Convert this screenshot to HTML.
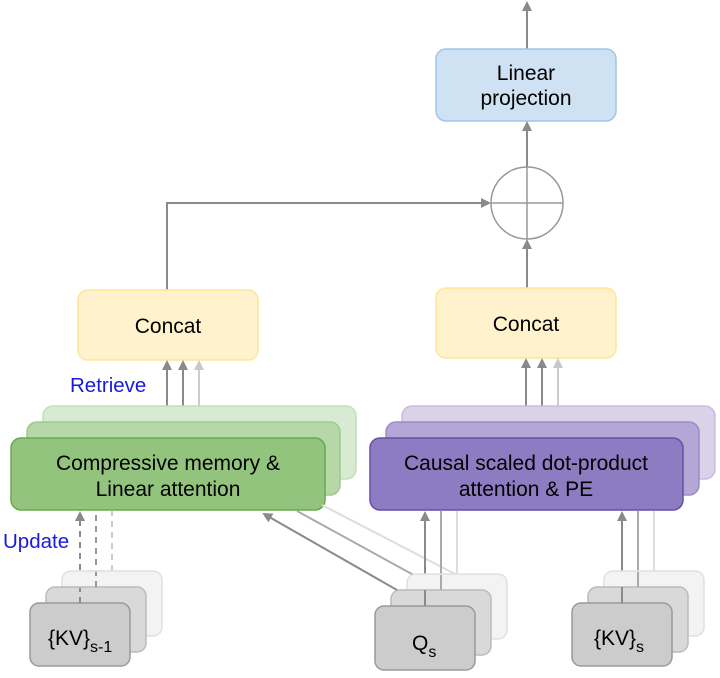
<!DOCTYPE html>
<html><head><style>body{margin:0;background:#fff}svg{display:block}text{font-family:"Liberation Sans",sans-serif}</style></head><body>
<svg width="720" height="678" viewBox="0 0 720 678" xmlns="http://www.w3.org/2000/svg">
<defs>
<marker id="a" markerWidth="10" markerHeight="10" refX="8" refY="5" orient="auto" markerUnits="userSpaceOnUse"><path d="M0,0 L10,5 L0,10 z" fill="#8a8a8a"/></marker>
<marker id="al" markerWidth="10" markerHeight="10" refX="8" refY="5" orient="auto" markerUnits="userSpaceOnUse"><path d="M0,0 L10,5 L0,10 z" fill="#c8c8c8"/></marker>
</defs>
<line x1="527" y1="49" x2="527" y2="3" stroke="#8a8a8a" stroke-width="2" marker-end="url(#a)"/>
<rect x="436" y="49" width="180" height="72" rx="10" fill="#cfe2f3" stroke="#9fc5e8" stroke-width="1.5"/>
<text x="526" y="80" font-size="21" text-anchor="middle">Linear</text>
<text x="526" y="105" font-size="21" text-anchor="middle">projection</text>
<line x1="527" y1="167" x2="527" y2="123" stroke="#8a8a8a" stroke-width="2" marker-end="url(#a)"/>
<circle cx="527" cy="203" r="36" fill="#fff" stroke="#999" stroke-width="1.5"/>
<line x1="491" y1="203" x2="563" y2="203" stroke="#999" stroke-width="1.5"/>
<line x1="527" y1="167" x2="527" y2="239" stroke="#999" stroke-width="1.5"/>
<line x1="527" y1="288" x2="527" y2="241" stroke="#8a8a8a" stroke-width="2" marker-end="url(#a)"/>
<polyline points="167,290 167,203 489,203" fill="none" stroke="#8a8a8a" stroke-width="2" marker-end="url(#a)"/>
<rect x="78" y="290" width="180" height="70" rx="10" fill="#fff2cc" stroke="#ffe599" stroke-width="1.5"/>
<text x="168" y="333" font-size="21" text-anchor="middle">Concat</text>
<rect x="436" y="288" width="180" height="70" rx="10" fill="#fff2cc" stroke="#ffe599" stroke-width="1.5"/>
<text x="526" y="331" font-size="21" text-anchor="middle">Concat</text>
<text x="70" y="392" font-size="20.5" fill="#1a1adc">Retrieve</text>
<text x="3" y="548" font-size="20.5" fill="#1a1adc">Update</text>
<line x1="199" y1="406" x2="199" y2="362" stroke="#ccc" stroke-width="2" marker-end="url(#al)"/>
<line x1="183" y1="422" x2="183" y2="362" stroke="#8a8a8a" stroke-width="2" marker-end="url(#a)"/>
<line x1="167" y1="438" x2="167" y2="362" stroke="#8a8a8a" stroke-width="2" marker-end="url(#a)"/>
<line x1="558" y1="406" x2="558" y2="360" stroke="#ccc" stroke-width="2" marker-end="url(#al)"/>
<line x1="542" y1="422" x2="542" y2="360" stroke="#8a8a8a" stroke-width="2" marker-end="url(#a)"/>
<line x1="526" y1="438" x2="526" y2="360" stroke="#8a8a8a" stroke-width="2" marker-end="url(#a)"/>
<rect x="43" y="406" width="313" height="73" rx="10" fill="#d9ead3" stroke="#c3dfb8" stroke-width="1.5"/>
<rect x="27" y="422" width="313" height="73" rx="10" fill="#b6d7a8" stroke="#9ccb88" stroke-width="1.5"/>
<rect x="11" y="438" width="314" height="72" rx="10" fill="#93c47d" stroke="#6aa84f" stroke-width="1.5"/>
<text x="168" y="470" font-size="21" text-anchor="middle">Compressive memory &amp;</text>
<text x="168" y="496" font-size="21" text-anchor="middle">Linear attention</text>
<rect x="402" y="406" width="313" height="73" rx="10" fill="#d9d2e9" stroke="#c8bde3" stroke-width="1.5"/>
<rect x="386" y="422" width="313" height="73" rx="10" fill="#b4a7d6" stroke="#9d8ccc" stroke-width="1.5"/>
<rect x="370" y="438" width="313" height="72" rx="10" fill="#8e7cc3" stroke="#674ea7" stroke-width="1.5"/>
<text x="526" y="470" font-size="21" text-anchor="middle">Causal scaled dot-product</text>
<text x="526" y="496" font-size="21" text-anchor="middle">attention &amp; PE</text>
<line x1="455" y1="574" x2="322" y2="505" stroke="#ddd" stroke-width="2"/>
<line x1="441" y1="590" x2="297" y2="511" stroke="#aaa" stroke-width="2"/>
<line x1="425" y1="606" x2="264" y2="514" stroke="#8a8a8a" stroke-width="2" marker-end="url(#a)"/>
<line x1="112" y1="571" x2="112" y2="511" stroke="#ccc" stroke-width="2" stroke-dasharray="6,5"/>
<line x1="96" y1="587" x2="96" y2="511" stroke="#999" stroke-width="2" stroke-dasharray="6,5"/>
<line x1="80" y1="603" x2="80" y2="513" stroke="#8a8a8a" stroke-width="2" stroke-dasharray="6,5" marker-end="url(#a)"/>
<line x1="457" y1="574" x2="457" y2="511" stroke="#ddd" stroke-width="2"/>
<line x1="441" y1="590" x2="441" y2="511" stroke="#aaa" stroke-width="2"/>
<line x1="425" y1="606" x2="425" y2="513" stroke="#8a8a8a" stroke-width="2" marker-end="url(#a)"/>
<line x1="654" y1="571" x2="654" y2="511" stroke="#ddd" stroke-width="2"/>
<line x1="638" y1="587" x2="638" y2="511" stroke="#aaa" stroke-width="2"/>
<line x1="622" y1="603" x2="622" y2="513" stroke="#8a8a8a" stroke-width="2" marker-end="url(#a)"/>
<g stroke-width="1.5">
<rect x="62" y="571" width="100" height="65" rx="9" fill="#f3f3f3" stroke="#e0e0e0"/>
<rect x="46" y="587" width="100" height="65" rx="9" fill="#d9d9d9" stroke="#bbb"/>
<rect x="30" y="603" width="100" height="63" rx="9" fill="#cccccc" stroke="#999"/>
<rect x="407" y="574" width="100" height="65" rx="9" fill="#f3f3f3" stroke="#e0e0e0"/>
<rect x="391" y="590" width="100" height="65" rx="9" fill="#d9d9d9" stroke="#bbb"/>
<rect x="375" y="606" width="100" height="64" rx="9" fill="#cccccc" stroke="#999"/>
<rect x="604" y="571" width="100" height="65" rx="9" fill="#f3f3f3" stroke="#e0e0e0"/>
<rect x="588" y="587" width="100" height="65" rx="9" fill="#d9d9d9" stroke="#bbb"/>
<rect x="572" y="603" width="100" height="63" rx="9" fill="#cccccc" stroke="#999"/>
</g>
<line x1="80" y1="603" x2="80" y2="588" stroke="#8a8a8a" stroke-width="2" stroke-dasharray="6,5"/>
<line x1="96" y1="587" x2="96" y2="572" stroke="#999" stroke-width="2" stroke-dasharray="6,5"/>
<line x1="425" y1="606" x2="425" y2="590" stroke="#8a8a8a" stroke-width="2"/>
<line x1="441" y1="590" x2="441" y2="575" stroke="#aaa" stroke-width="2"/>
<line x1="622" y1="603" x2="622" y2="587" stroke="#8a8a8a" stroke-width="2"/>
<line x1="638" y1="587" x2="638" y2="572" stroke="#aaa" stroke-width="2"/>
<text x="48" y="645" font-size="21">{KV}<tspan font-size="16" dy="7">s-1</tspan></text>
<text x="412" y="650" font-size="21">Q<tspan font-size="16" dy="7">s</tspan></text>
<text x="594" y="645" font-size="21">{KV}<tspan font-size="16" dy="7">s</tspan></text>
</svg>
</body></html>
